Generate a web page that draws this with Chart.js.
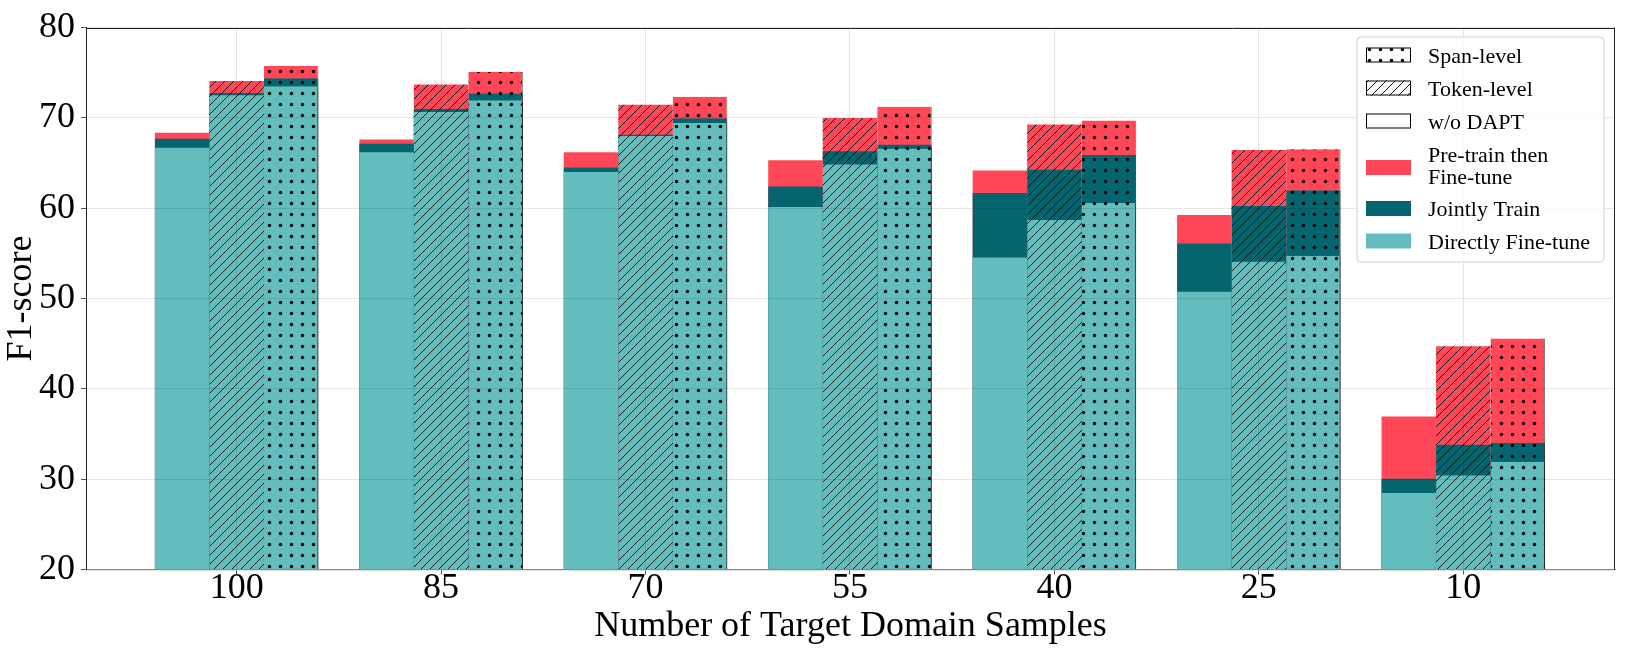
<!DOCTYPE html>
<html><head><meta charset="utf-8">
<script src="https://cdn.jsdelivr.net/npm/chart.js@4.4.1/dist/chart.umd.min.js"></script>
<style>html,body{margin:0;padding:0;background:#fff;} #wrap{width:1630px;height:658px;}</style>
</head><body><div id="wrap"><canvas id="c" width="1630" height="658"></canvas></div>
<script>
const categories = ['100','85','70','55','40','25','10'];
const variants = ['w/o DAPT','Token-level','Span-level'];
const methods = ['Directly Fine-tune','Jointly Train','Pre-train then Fine-tune'];
// Directly Fine-tune
const directWo   = [66.7, 66.2, 64.0, 60.15, 54.54, 50.75, 28.46];
const directTok  = [72.5, 70.65, 68.0, 64.85, 58.71, 54.07, 30.42];
const directSpan = [73.5, 71.95, 69.45, 66.6, 60.59, 54.73, 31.93];
// Jointly Train
const jointWo    = [67.7, 67.15, 64.5, 62.4, 61.69, 56.09, 30.06];
const jointTok   = [72.75, 71.0, 68.15, 66.3, 64.27, 60.25, 33.81];
const jointSpan  = [74.4, 72.7, 69.95, 67.05, 65.89, 61.99, 34.03];
// Pre-train then Fine-tune
const pretrainWo   = [68.35, 67.6, 66.2, 65.3, 64.19, 59.26, 36.94];
const pretrainTok  = [74.1, 73.7, 71.45, 70.0, 69.28, 66.44, 44.71];
const pretrainSpan = [75.75, 75.1, 72.35, 71.25, 69.72, 66.52, 45.59];
const yTicks = [20, 30, 40, 50, 60, 70, 80];

const COL_LIGHT = '#63bdbd', COL_DARK = '#05656f', COL_RED = '#ff4757';
const FONT = "'Liberation Serif', 'DejaVu Serif', serif";

const canvas = document.getElementById('c');
const ctx = canvas.getContext('2d');

function hatchPattern(bg) {
  const s = 9;
  const c = document.createElement('canvas'); c.width = s; c.height = s;
  const x = c.getContext('2d');
  if (bg) { x.fillStyle = bg; x.fillRect(0, 0, s, s); }
  x.strokeStyle = '#0a1a1a'; x.lineWidth = 1;
  x.beginPath();
  x.moveTo(0, s); x.lineTo(s, 0);
  x.moveTo(-1, 1); x.lineTo(1, -1);
  x.moveTo(s - 1, s + 1); x.lineTo(s + 1, s - 1);
  x.stroke();
  return ctx.createPattern(c, 'repeat');
}
function dotPattern(bg) {
  const s = 11;
  const c = document.createElement('canvas'); c.width = s; c.height = s;
  const x = c.getContext('2d');
  if (bg) { x.fillStyle = bg; x.fillRect(0, 0, s, s); }
  x.fillStyle = '#000';
  x.beginPath(); x.arc(s / 2, s / 2, 1.7, 0, Math.PI * 2); x.fill();
  return ctx.createPattern(c, 'repeat');
}
function fillFor(variantIdx, color) {
  if (variantIdx === 1) return hatchPattern(color);
  if (variantIdx === 2) return dotPattern(color);
  return color;
}

const seriesTable = [
  [directWo, jointWo, pretrainWo],
  [directTok, jointTok, pretrainTok],
  [directSpan, jointSpan, pretrainSpan]
];
const methodColors = [COL_LIGHT, COL_DARK, COL_RED];
const stackKeys = ['wo', 'tok', 'span'];

const datasets = [];
seriesTable.forEach((arr, v) => {
  arr.forEach((vals, m) => {
    datasets.push({
      label: variants[v] + ' / ' + methods[m],
      stack: stackKeys[v],
      data: vals.map((y, i) => ({ x: i, y: y })),
      backgroundColor: fillFor(v, methodColors[m]),
      borderWidth: v === 2 ? { top: 0, right: 1, bottom: 0, left: 0 } : 0,
      borderColor: 'rgba(0,0,0,0.55)',
      borderSkipped: false,
      categoryPercentage: 0.8,
      barPercentage: 1.0
    });
  });
});

const framePlugin = {
  id: 'frame',
  afterDraw(chart) {
    const a = chart.chartArea, c = chart.ctx;
    c.save();
    c.strokeStyle = '#222'; c.lineWidth = 1;
    c.beginPath();
    c.moveTo(a.left, Math.round(a.top) + 0.5); c.lineTo(a.right, Math.round(a.top) + 0.5);
    c.moveTo(Math.round(a.right) - 0.5, a.top); c.lineTo(Math.round(a.right) - 0.5, a.bottom);
    c.stroke();
    // legend
    const bx = 1357, by = 37, bw = 247, bh = 225, r = 4;
    c.fillStyle = 'rgba(255,255,255,0.8)';
    c.strokeStyle = '#d0d0d0';
    c.beginPath();
    c.moveTo(bx + r, by); c.lineTo(bx + bw - r, by); c.quadraticCurveTo(bx + bw, by, bx + bw, by + r);
    c.lineTo(bx + bw, by + bh - r); c.quadraticCurveTo(bx + bw, by + bh, bx + bw - r, by + bh);
    c.lineTo(bx + r, by + bh); c.quadraticCurveTo(bx, by + bh, bx, by + bh - r);
    c.lineTo(bx, by + r); c.quadraticCurveTo(bx, by, bx + r, by);
    c.closePath(); c.fill(); c.stroke();
    const sx = 1366, sw = 45, sh = 15;
    const items = [
      { fill: dotPattern('#ffffff'), border: true, top: 47.5, lines: ['Span-level'], base: [62.5] },
      { fill: hatchPattern('#ffffff'), border: true, top: 80.5, lines: ['Token-level'], base: [95.7] },
      { fill: '#ffffff', border: true, top: 113.5, lines: ['w/o DAPT'], base: [129.3] },
      { fill: COL_RED, border: false, top: 160, lines: ['Pre-train then', 'Fine-tune'], base: [161.7, 184] },
      { fill: COL_DARK, border: false, top: 201, lines: ['Jointly Train'], base: [216] },
      { fill: COL_LIGHT, border: false, top: 233.5, lines: ['Directly Fine-tune'], base: [248.7] }
    ];
    c.font = '22px ' + FONT;
    c.textBaseline = 'alphabetic';
    c.textAlign = 'left';
    items.forEach(it => {
      c.fillStyle = it.fill;
      c.fillRect(sx, it.top, sw, sh);
      if (it.border) {
        c.strokeStyle = '#000'; c.lineWidth = 1;
        c.strokeRect(sx + 0.5, it.top + 0.5, sw - 1, sh - 1);
      }
      c.fillStyle = '#000';
      it.lines.forEach((t, k) => c.fillText(t, 1428, it.base[k]));
    });
    c.restore();
  }
};

new Chart(canvas, {
  type: 'bar',
  data: { datasets: datasets },
  options: {
    responsive: false,
    animation: false,
    devicePixelRatio: 1,
    layout: { padding: { top: 26.4, right: 15, left: 0, bottom: 0 } },
    plugins: { legend: { display: false }, tooltip: { enabled: false } },
    scales: {
      x: {
        type: 'linear',
        stacked: true,
        offset: false,
        min: -0.737,
        max: 6.742,
        afterBuildTicks: s => { s.ticks = categories.map((_, i) => ({ value: i })); },
        afterFit: s => { s.height = 88.5; },
        ticks: {
          callback: (v) => categories[v],
          font: { family: FONT, size: 36 },
          color: '#000',
          padding: -8,
          maxRotation: 0,
          autoSkip: false
        },
        grid: { offset: false, color: 'rgba(0,0,0,0.1)', z: 1, tickLength: 5, tickColor: '#555', drawTicks: true },
        border: { color: '#888', width: 1.3, z: 3 },
        title: {
          display: true,
          text: 'Number of Target Domain Samples',
          font: { family: FONT, size: 36 },
          color: '#000',
          padding: { top: 0, bottom: 10 }
        }
      },
      y: {
        stacked: false,
        min: 20,
        max: 80,
        afterBuildTicks: s => { s.ticks = yTicks.map(v => ({ value: v })); },
        afterFit: s => { s.width = 86; },
        ticks: {
          font: { family: FONT, size: 36 },
          color: '#000',
          padding: 6
        },
        grid: { color: 'rgba(0,0,0,0.1)', z: 1, tickLength: 5, tickColor: '#555', drawTicks: true },
        border: { color: '#222', width: 1, z: 3 },
        title: {
          display: true,
          text: 'F1-score',
          font: { family: FONT, size: 36 },
          color: '#000',
          padding: { top: 0, bottom: 0 }
        }
      }
    }
  },
  plugins: [framePlugin]
});
</script>
</body></html>
